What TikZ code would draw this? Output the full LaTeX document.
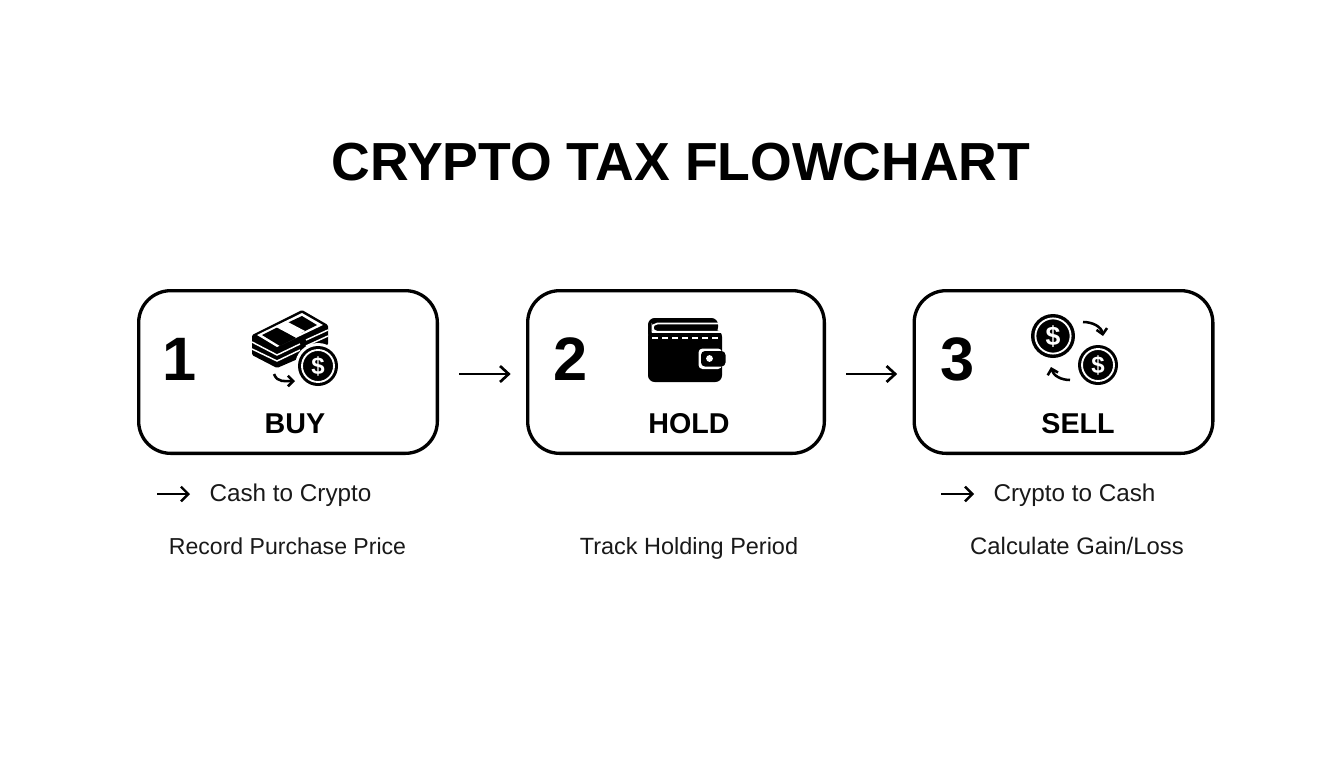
\documentclass[tikz,border=0pt]{standalone}
\usepackage{fontspec}
\setmainfont{Liberation Sans}
\usetikzlibrary{arrows.meta}
\tikzset{
  x=0.75pt,y=-0.75pt,
  stepbox/.style={draw=black,line width=2.5pt,rounded corners=24pt,minimum width=224pt,minimum height=122pt,inner sep=0pt,fill=white},
  flowarrow/.style={draw=black,line width=2pt,-{Straight Barb[length=6.5pt,width=12pt,line width=2pt]}},
  subarrow/.style={draw=black,line width=1.8pt,-{Straight Barb[length=5.5pt,width=11pt,line width=1.8pt]}},
  smallarrow/.style={draw=black,line width=1.9pt,-{Straight Barb[length=4pt,width=8pt,line width=1.9pt]}},
  titletext/.style={font=\bfseries\fontsize{40.2}{48}\selectfont,inner sep=0pt,anchor=base},
  numtext/.style={font=\bfseries\fontsize{46}{56}\selectfont,inner sep=0pt,anchor=base},
  labeltext/.style={font=\bfseries\fontsize{21.5}{26}\selectfont,inner sep=0pt,anchor=base},
  bodytext/.style={font=\fontsize{#1}{21}\selectfont,inner sep=0pt,text=black!90,anchor=base},
  dollar/.style={font=\bfseries\fontsize{#1}{#1}\selectfont,text=white,inner sep=0pt},
  ink/.style={fill=black,draw=none},
  paper/.style={fill=white,draw=none},
}
\newcommand{\mycoin}[3]{% x,y,r
  \fill[black] (#1,#2) circle[radius=#3];
  \draw[white,line width=1.4pt] (#1,#2) circle[radius=#3*0.80];
}
\begin{document}
\begin{tikzpicture}
\useasboundingbox (0,0) rectangle (1344,768);
\fill[white] (0,0) rectangle (1344,768);
\node[titletext] (title) at (681,180.5) {CRYPTO TAX FLOWCHART};

\node[stepbox] (b1) at (288,372) {};
\node[stepbox,minimum width=222.5pt] (b2) at (676,372) {};
\node[stepbox] (b3) at (1063.5,372) {};

\node[numtext] (n1) at (180,380.5) {1};
\node[numtext] (n2) at (571,380.5) {2};
\node[numtext] (n3) at (958,380.5) {3};
\node[labeltext] (l1) at (295,433) {BUY};
\node[labeltext] (l2) at (689,433) {HOLD};
\node[labeltext] (l3) at (1078,433) {SELL};

\draw[flowarrow,shorten <=15pt,shorten >=11.5pt] ([yshift=-1.5pt]b1.east) -- ([yshift=-1.5pt]b2.west);
\draw[flowarrow,shorten <=15pt,shorten >=11.5pt] ([yshift=-1.5pt]b2.east) -- ([yshift=-1.5pt]b3.west);

\coordinate (a1s) at (157,494);
\coordinate (a1e) at (190,494);
\coordinate (a3s) at (941,494);
\coordinate (a3e) at (974,494);
\draw[subarrow] (a1s) -- (a1e);
\draw[subarrow] (a3s) -- (a3e);
\node[bodytext=18.2] (t1) at (290.5,501) {Cash to Crypto};
\node[bodytext=18.2] (t3) at (1074.5,501) {Crypto to Cash};
\node[bodytext=17.3] (d1) at (287.5,554.5) {Record Purchase Price};
\node[bodytext=17.6] (d2) at (689,554.5) {Track Holding Period};
\node[bodytext=17.9] (d3) at (1077,554.5) {Calculate Gain/Loss};

% money stack
\fill[ink,rounded corners=1pt] (252,335) -- (302,310) -- (328,325) -- (328,345) -- (300,358) -- (277,368) -- (252,355) -- cycle;
\draw[white,line width=1.1pt] (252,342) -- (277,355) -- (300,344);
\draw[white,line width=1.1pt] (252,349) -- (277,361) -- (300,350);
\fill[paper] (257,335) -- (302,313) -- (323,325) -- (277,347) -- cycle;
\fill[ink] (262,335) -- (278,327) -- (296,338) -- (280,346) -- cycle;
\fill[ink] (286,323.5) -- (302,316) -- (317,325) -- (301,333) -- cycle;
\fill[paper] (275,326.5) -- (286,321) -- (305,331) -- (294,336.5) -- cycle;
\draw[white,line width=1.1pt] (306,340) -- (328,330);
\draw[white,line width=1.1pt] (306,346) -- (328,336);
\fill[white] (318,366) circle[radius=23];
\mycoin{318}{366}{20}
\node[dollar=18] (c0) at (318,366.5) {\$};
\coordinate (m1) at (274,374);
\coordinate (m2) at (295,381);
\draw[smallarrow] (m1) to[out=-70,in=180,looseness=1.1] (m2);

% wallet
\fill[ink,rounded corners=5pt] (648,330) rectangle (722,382);
\fill[ink,rounded corners=5pt] (648,340) -- (648,318) -- (718,318) -- (718,334) -- (660,334) -- cycle;
\fill[white] (652,331) rectangle (724,332.6);
\draw[white,line width=1.3pt,rounded corners=3.5pt] (719,323.6) -- (652.5,323.6) -- (652.5,331.8) -- (719,331.8);
\draw[white,line width=1.5pt,dash pattern=on 4.5pt off 3pt] (652,338) -- (718,338);
\fill[white,rounded corners=3pt] (698.5,348.5) rectangle (722,369);
\fill[ink,rounded corners=3pt] (701,351) rectangle (725.5,366.5);
\fill[white] (709.5,358.5) circle[radius=3.4];

% exchange coins
\mycoin{1053}{336}{22}
\mycoin{1098}{365}{20}
\node[dollar=20] (c1) at (1053,336.5) {\$};
\node[dollar=18] (c2) at (1098,365.5) {\$};
\coordinate (e1) at (1083,322);
\coordinate (e2) at (1103,336);
\coordinate (e3) at (1070,380);
\coordinate (e4) at (1051,367);
\draw[smallarrow] (e1) to[out=0,in=100] (e2);
\draw[smallarrow] (e3) to[out=180,in=-75] (e4);
\end{tikzpicture}
\end{document}
